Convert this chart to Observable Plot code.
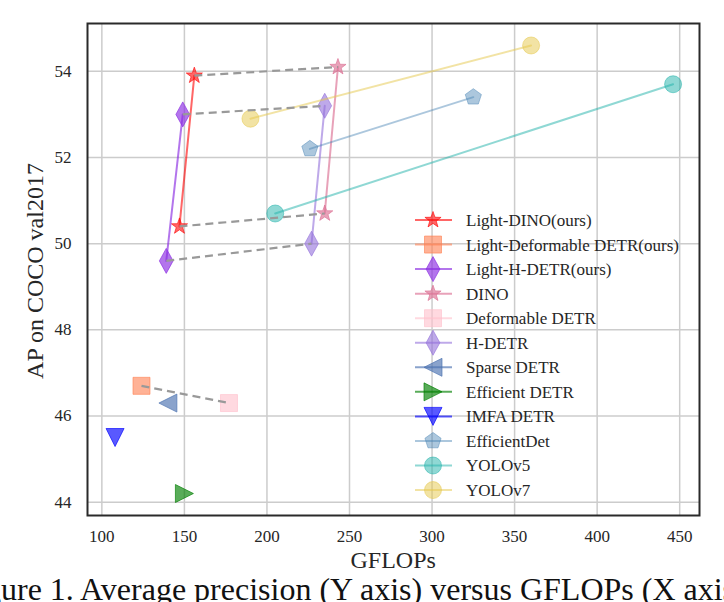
<!DOCTYPE html>
<html><head><meta charset="utf-8">
<script src="https://cdn.jsdelivr.net/npm/d3@7"></script>
<script src="https://cdn.jsdelivr.net/npm/@observablehq/plot@0.6"></script>
<style>
html,body{margin:0;padding:0;background:#fff;}
#wrap{position:relative;width:724px;height:602px;overflow:hidden;font-family:"Liberation Serif","Times New Roman",serif;color:#262626;}
#wrap svg{position:absolute;left:0;top:0;}
#wrap svg text{font-family:"Liberation Serif","Times New Roman",serif;}
.lbl{position:absolute;white-space:nowrap;font-size:24px;line-height:1;}
#caption{position:absolute;white-space:nowrap;font-size:32px;line-height:1;color:#111;}
</style></head><body><div id="wrap"></div>
<script>
// ---- data ----
const seriesNames = ["Light-DINO(ours)","Light-Deformable DETR(ours)","Light-H-DETR(ours)","DINO","Deformable DETR","H-DETR","Sparse DETR","Efficient DETR","IMFA DETR","EfficientDet","YOLOv5","YOLOv7"];
const seriesColors = ["#ff0000","#ff7f50","#8a2be2","#db7093","#ffc0cb","#9370db","#4c72b0","#008000","#0000ff","#4682b4","#20b2aa","#e6c84a"];
const seriesAlpha = [0.6,0.6,0.65,0.65,0.6,0.6,0.65,0.65,0.65,0.45,0.5,0.5];
const seriesSymbols = ["star","square","diamond","star","square","diamond","triLeft","triRight","triDown","pentagon","circle","circle"];
const gflops = [[147,156],[124],[139,149],[235,243],[177],[227,235],[140],[150],[108],[226,325],[205,446],[190,360]];
const ap = [[50.4,53.9],[46.7],[49.6,53.0],[50.7,54.1],[46.3],[50.0,53.2],[46.3],[44.2],[45.5],[52.2,53.4],[50.7,53.7],[52.9,54.6]];
const dashedPairs = [[0,3],[2,5],[1,4]]; // light model -> baseline
const xTicks = [100,150,200,250,300,350,400,450];
const yTicks = [44,46,48,50,52,54];
const xLabel = "GFLOPs";
const yLabel = "AP on COCO val2017";
const captionText = "Figure 1. Average precision (Y axis) versus GFLOPs (X axis).";

// ---- symbols ----
function polySym(pts){return {draw(ctx,size){const r=Math.sqrt(size/Math.PI);pts.forEach(([px,py],k)=>k?ctx.lineTo(px*r,py*r):ctx.moveTo(px*r,py*r));ctx.closePath();}};}
const starPts=d3.range(10).map(k=>{const a=-Math.PI/2+k*Math.PI/5,rr=k%2?0.4:1;return [rr*Math.cos(a),rr*Math.sin(a)];});
const pentPts=d3.range(5).map(k=>{const a=-Math.PI/2+k*2*Math.PI/5;return [Math.cos(a),Math.sin(a)];});
const symbolDefs={
  star:{sym:polySym(starPts),r:8.5},
  square:{sym:polySym([[-1,-1],[1,-1],[1,1],[-1,1]]),r:8.5},
  diamond:{sym:polySym([[0,-1],[0.55,0],[0,1],[-0.55,0]]),r:12.5},
  triLeft:{sym:polySym([[-1,0],[1,-1],[1,1]]),r:9},
  triRight:{sym:polySym([[1,0],[-1,-1],[-1,1]]),r:9},
  triDown:{sym:polySym([[0,1],[-1,-1],[1,-1]]),r:9},
  pentagon:{sym:polySym(pentPts),r:8.5},
  circle:{sym:{draw(ctx,size){const r=Math.sqrt(size/Math.PI);ctx.moveTo(r,0);ctx.arc(0,0,r,0,2*Math.PI);}},r:8.5}
};

// ---- derived tables ----
const points = seriesNames.flatMap((name,i)=>gflops[i].map((x,j)=>({name,i,x,y:ap[i][j]})));
const links = dashedPairs.flatMap(([a,b])=>gflops[a].map((x,j)=>({x1:x,y1:ap[a][j],x2:gflops[b][j],y2:ap[b][j]})));

const FONT='"Liberation Serif","Times New Roman",serif';
const W=724,H=575,ML=87,MR=25,MT=23,MB=60;
const marks=[
  Plot.gridX(xTicks,{stroke:"#cccccc",strokeOpacity:1,strokeWidth:1.5}),
  Plot.gridY(yTicks,{stroke:"#cccccc",strokeOpacity:1,strokeWidth:1.5}),
  Plot.axisX(xTicks,{tickSize:0,tickPadding:14,label:null,fontSize:17,fontFamily:FONT,fill:"#262626"}),
  Plot.axisY(yTicks,{tickSize:0,tickPadding:16,label:null,fontSize:17,fontFamily:FONT,fill:"#262626"})
];
seriesNames.forEach((name,i)=>{
  const d=points.filter(p=>p.i===i);
  const sd=symbolDefs[seriesSymbols[i]];
  if(d.length>1) marks.push(Plot.line(d,{x:"x",y:"y",stroke:seriesColors[i],strokeOpacity:seriesAlpha[i],strokeWidth:2}));
  marks.push(Plot.dot(d,{x:"x",y:"y",symbol:sd.sym,r:sd.r,fill:seriesColors[i],fillOpacity:seriesAlpha[i],stroke:seriesColors[i],strokeOpacity:seriesAlpha[i],strokeWidth:1}));
});
marks.push(Plot.link(links,{x1:"x1",y1:"y1",x2:"x2",y2:"y2",stroke:"#999999",strokeWidth:2.2,strokeDasharray:"8,5"}));
marks.push(Plot.frame({stroke:"#2a2a2a",strokeWidth:2}));

const chart=Plot.plot({
  width:W,height:H,marginLeft:ML,marginRight:MR,marginTop:MT,marginBottom:MB,
  x:{domain:[91.3,462]},
  y:{domain:[43.69,55.11]},
  style:{fontFamily:FONT,fontSize:"17px",background:"white",color:"#262626"},
  marks
});
const wrap=document.getElementById("wrap");
wrap.appendChild(chart);

// axis labels
const xl=document.createElement("div");xl.className="lbl";xl.textContent=xLabel;
wrap.appendChild(xl);
xl.style.left=(393-xl.offsetWidth/2)+"px";xl.style.top="548px";
const yl=document.createElement("div");yl.className="lbl";yl.textContent=yLabel;
wrap.appendChild(yl);
yl.style.left=(35-yl.offsetWidth/2)+"px";yl.style.top=(271-yl.offsetHeight/2)+"px";yl.style.transform="rotate(-90deg)";

// legend overlay
const leg=d3.select(wrap).append("svg").attr("width",W).attr("height",602).style("pointer-events","none");
seriesNames.forEach((name,i)=>{
  const y=220+i*24.55, sd=symbolDefs[seriesSymbols[i]];
  const g=leg.append("g");
  g.append("line").attr("x1",415).attr("x2",452).attr("y1",y).attr("y2",y).attr("stroke",seriesColors[i]).attr("stroke-opacity",seriesAlpha[i]).attr("stroke-width",2);
  g.append("path").attr("transform",`translate(433,${y})`).attr("d",d3.symbol(sd.sym,sd.r*sd.r*Math.PI)())
   .attr("fill",seriesColors[i]).attr("fill-opacity",seriesAlpha[i]).attr("stroke",seriesColors[i]).attr("stroke-opacity",seriesAlpha[i]);
  g.append("text").attr("x",466).attr("y",y).attr("dy","0.35em").attr("font-size",17)
   .attr("font-family",FONT).attr("fill","#262626").text(name);
});

// caption
const cap=document.createElement("div");cap.id="caption";cap.textContent=captionText;
wrap.appendChild(cap);
const cv=document.createElement("canvas").getContext("2d");cv.font='32px "Liberation Serif"';
cap.style.left=(-cv.measureText("Fig").width+1)+"px";cap.style.top="573px";
</script></body></html>
